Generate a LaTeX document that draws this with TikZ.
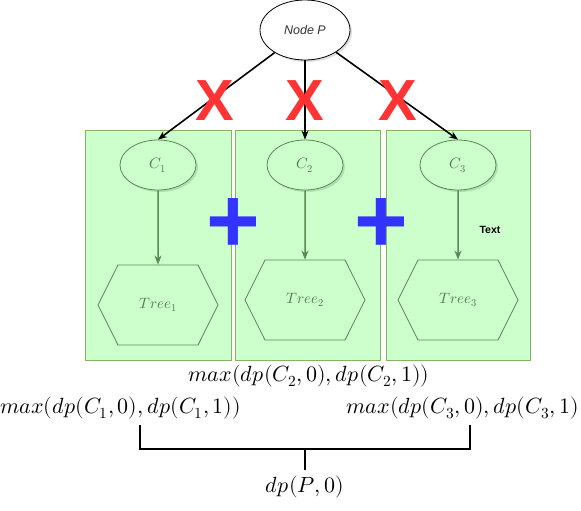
\documentclass[tikz,border=0pt]{standalone}
\usepackage{fontspec}
\usepackage{unicode-math}
\setmathfont{Latin Modern Math}
\newfontfamily\drawiofont{Liberation Sans}
\usepackage{tikz}
\usetikzlibrary{shapes.geometric,shapes.symbols,shadows,arrows.meta}
\definecolor{panelfill}{HTML}{CCFFCC}
\definecolor{paneldraw}{HTML}{82B366}
\definecolor{leafdraw}{HTML}{5A8A50}
\definecolor{leaftext}{HTML}{4F7F48}
\definecolor{crossred}{HTML}{FF3333}
\definecolor{plusblue}{HTML}{3333FF}
\tikzset{
    panel/.style={draw=paneldraw,fill=panelfill,line width=1pt},
    pnode/.style={ellipse,draw=black,fill=white,line width=0.8pt,minimum width=90pt,minimum height=60pt,inner sep=0pt,
        font=\drawiofont\itshape\fontsize{12.5}{14}\selectfont,text=black!80,
        drop shadow={shadow xshift=2pt,shadow yshift=-2pt,opacity=0.25}},
    cnode/.style={ellipse,draw=leafdraw,fill=panelfill,line width=0.8pt,minimum width=76pt,minimum height=50pt,inner sep=0pt,
        font=\fontsize{15}{17}\selectfont,text=leaftext,
        drop shadow={shadow xshift=2pt,shadow yshift=-2pt,opacity=0.25,fill=leafdraw}},
    treenode/.style={signal,signal to=west and east,signal pointer angle=127,
        draw=leafdraw,fill=panelfill,line width=0.8pt,minimum width=120pt,minimum height=80pt,inner sep=0pt,
        font=\fontsize{15}{17}\selectfont,text=leaftext},
    link/.style={draw=black,line width=1.6pt,-{Stealth[length=9pt,width=7pt]}},
    childlink/.style={draw=leafdraw,line width=1.5pt,-{Stealth[length=9pt,width=7pt]}},
    cross/.style={font=\drawiofont\bfseries\fontsize{58}{58}\selectfont,text=crossred,inner sep=0pt},
    plus/.style={font=\drawiofont\bfseries\fontsize{92}{92}\selectfont,text=plusblue,inner sep=0pt},
    formula/.style={font=\fontsize{22}{26}\selectfont,inner sep=0pt},
    bracket/.style={draw=black,line width=1.6pt}
}

\begin{document}
\begin{tikzpicture}[x=1pt,y=-1pt]
            \useasboundingbox (0,0) rectangle (581,511);
            \draw[panel] (85,130) rectangle (231,360);
            \draw[panel] (235,130) rectangle (380,360);
            \draw[panel] (386,130) rectangle (530,360);
            \node[pnode] (P) at (305,30) {Node P};
            \foreach \i/\x/\y in {1/158/305,2/305/300,3/458/300}{
                \node[cnode] (C\i) at (\x,165) {$C_\i$};
                \node[treenode] (T\i) at (\x,\y) {$Tree_\i$};
                \draw[childlink] (C\i) -- (T\i);
                \draw[link] (P) -- (C\i.north);
            }
            \node[cross] (X1) at (215,101) {X};
            \node[cross] (X2) at (305,101) {X};
            \node[cross] (X3) at (398,101) {X};
            \node[plus] (plus1) at (233,226) {+};
            \node[plus] (plus2) at (381,226) {+};
            \node[font=\drawiofont\bfseries\fontsize{10.5}{12}\selectfont] (lbl) at (490,230) {Text};
            \node[formula] (max2) at (309,376) {$max(dp(C_2,0),dp(C_2,1))$};
            \node[formula,anchor=west] (max1) at (0,408) {$max(dp(C_1,0),dp(C_1,1))$};
            \node[formula,anchor=east] (max3) at (579,408) {$max(dp(C_3,0),dp(C_3,1)$};
            \node[formula] (root) at (305,487) {$dp(P,0)$};
            \coordinate (bl) at (140,425);
            \coordinate (br) at (470,425);
            \coordinate (bm) at (305,449);
            \draw[bracket] (bl) |- (br |- bm) -- (br);
            \draw[bracket] (bm) -- (root.north |- 0,470);
        \end{tikzpicture}
\end{document}
